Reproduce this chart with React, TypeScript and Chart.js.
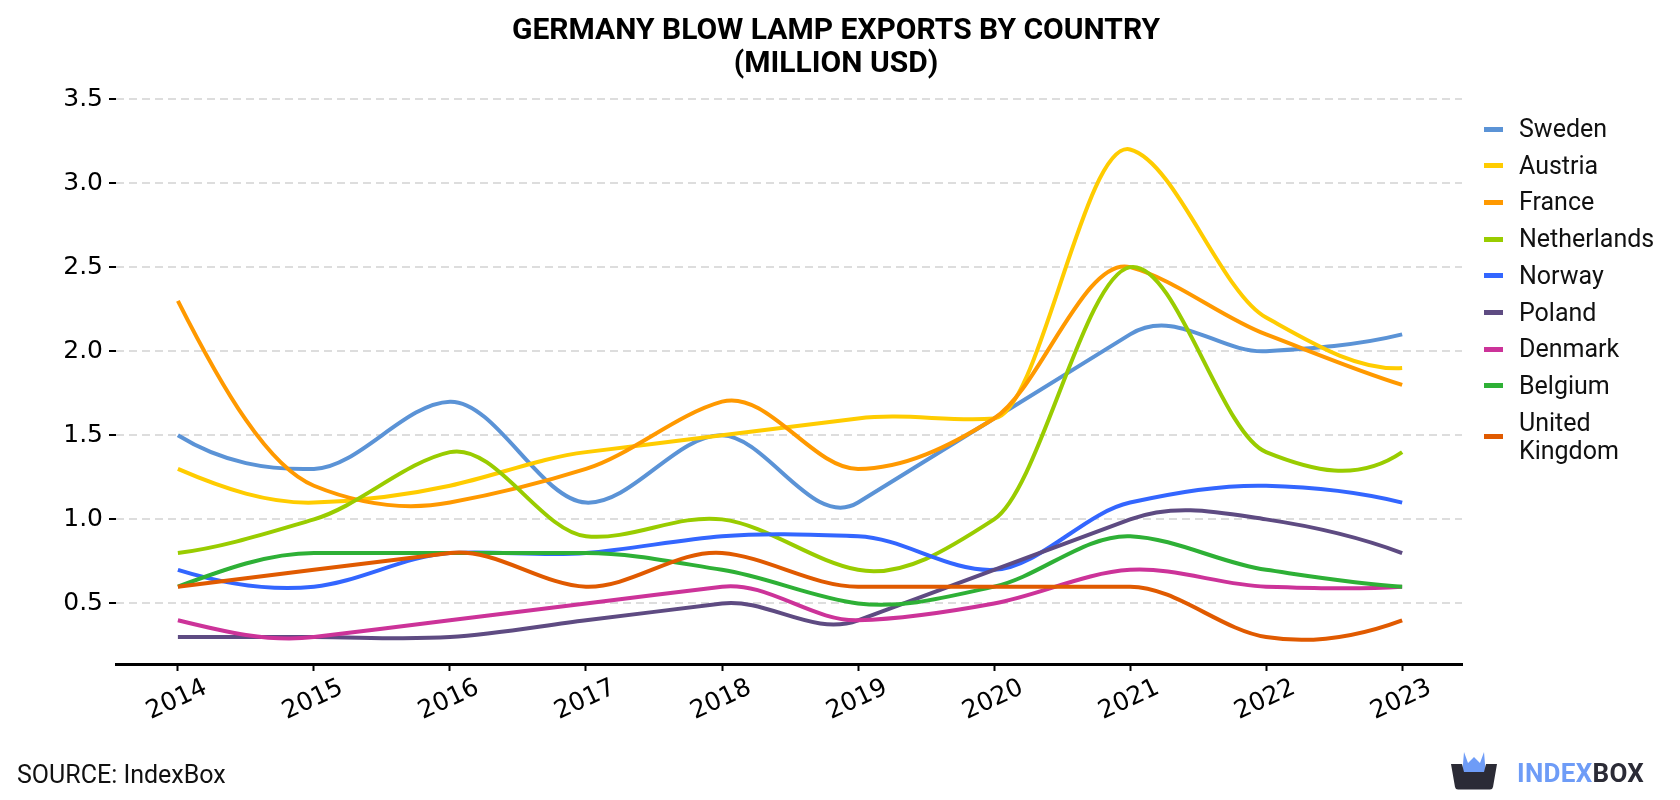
import React, { useEffect, useRef } from "react";
import { Chart, registerables } from "chart.js";

Chart.register(...registerables);

// Export values, million USD
const years = [2014, 2015, 2016, 2017, 2018, 2019, 2020, 2021, 2022, 2023];
const sweden = [1.5, 1.3, 1.7, 1.1, 1.5, 1.1, 1.6, 2.1, 2.0, 2.1];
const austria = [1.3, 1.1, 1.2, 1.4, 1.5, 1.6, 1.6, 3.2, 2.2, 1.9];
const france = [2.3, 1.2, 1.1, 1.3, 1.7, 1.3, 1.6, 2.5, 2.1, 1.8];
const netherlands = [0.8, 1.0, 1.4, 0.9, 1.0, 0.7, 1.0, 2.5, 1.4, 1.4];
const norway = [0.7, 0.6, 0.8, 0.8, 0.9, 0.9, 0.7, 1.1, 1.2, 1.1];
const poland = [0.3, 0.3, 0.3, 0.4, 0.5, 0.4, 0.7, 1.0, 1.0, 0.8];
const denmark = [0.4, 0.3, 0.4, 0.5, 0.6, 0.4, 0.5, 0.7, 0.6, 0.6];
const belgium = [0.6, 0.8, 0.8, 0.8, 0.7, 0.5, 0.6, 0.9, 0.7, 0.6];
const unitedKingdom = [0.6, 0.7, 0.8, 0.6, 0.8, 0.6, 0.6, 0.6, 0.3, 0.4];

const seriesNames = [
  "Sweden",
  "Austria",
  "France",
  "Netherlands",
  "Norway",
  "Poland",
  "Denmark",
  "Belgium",
  "United Kingdom",
];
const seriesColors = [
  "#5b93d6",
  "#ffcc00",
  "#ff9900",
  "#99cc00",
  "#3366ff",
  "#5e4b82",
  "#cc3399",
  "#2eb036",
  "#e05a00",
];
const legendLines = [
  ["Sweden"],
  ["Austria"],
  ["France"],
  ["Netherlands"],
  ["Norway"],
  ["Poland"],
  ["Denmark"],
  ["Belgium"],
  ["United", "Kingdom"],
];
const yTickValues = [0.5, 1.0, 1.5, 2.0, 2.5, 3.0, 3.5];

// Replaces Chart.js's default spline handles with Akima tangents, so each
// segment is the Akima cubic between its two data points.
const akimaCurves = {
  id: "akimaCurves",
  beforeDatasetDraw(chart: any, args: any) {
    const meta = args.meta;
    const line = meta.dataset;
    const pts = meta.data;
    const n = pts.length;
    if (!line || n < 3) return;
    line.updateControlPoints(chart.chartArea, "x");
    // secant slopes, padded with two extrapolated slopes at each end
    const s: number[] = [];
    for (let i = 0; i < n - 1; i++) {
      s.push((pts[i + 1].y - pts[i].y) / (pts[i + 1].x - pts[i].x));
    }
    const m: number[] = new Array(n + 3);
    for (let i = 0; i < n - 1; i++) m[i + 2] = s[i];
    m[1] = 2 * m[2] - m[3];
    m[0] = 2 * m[1] - m[2];
    m[n + 1] = 2 * m[n] - m[n - 1];
    m[n + 2] = 2 * m[n + 1] - m[n];
    const t: number[] = [];
    for (let i = 0; i < n; i++) {
      const w1 = Math.abs(m[i + 3] - m[i + 2]);
      const w2 = Math.abs(m[i + 1] - m[i]);
      t.push(
        w1 + w2 > 1e-9 ? (w1 * m[i + 1] + w2 * m[i + 2]) / (w1 + w2) : 0.5 * (m[i + 1] + m[i + 2])
      );
    }
    for (let i = 0; i < n; i++) {
      const p = pts[i];
      if (i > 0) {
        const h = (p.x - pts[i - 1].x) / 3;
        p.cp1x = p.x - h;
        p.cp1y = p.y - t[i] * h;
      }
      if (i < n - 1) {
        const h = (pts[i + 1].x - p.x) / 3;
        p.cp2x = p.x + h;
        p.cp2y = p.y + t[i] * h;
      }
    }
    line._path = undefined;
  },
};

// Year labels are drawn centred under each tick, tilted 25 degrees
const yearLabels = {
  id: "yearLabels",
  afterDraw(chart: any) {
    const { ctx, chartArea } = chart;
    const x = chart.scales.x;
    ctx.save();
    ctx.font = '25px "DejaVu Sans"';
    ctx.fillStyle = "#000";
    ctx.textAlign = "center";
    ctx.textBaseline = "middle";
    years.forEach((yr) => {
      const px = x.getPixelForValue(yr);
      ctx.save();
      ctx.translate(px - 1, chartArea.bottom + 36);
      ctx.rotate((-25 * Math.PI) / 180);
      ctx.fillText(String(yr), 0, 0);
      ctx.restore();
    });
    ctx.restore();
  },
};

export default function App() {
  const canvasRef = useRef<HTMLCanvasElement>(null);

  useEffect(() => {
    const canvas = canvasRef.current;
    if (!canvas) return;
    const series = [
      sweden,
      austria,
      france,
      netherlands,
      norway,
      poland,
      denmark,
      belgium,
      unitedKingdom,
    ];
    const chart = new Chart(canvas, {
      type: "line",
      data: {
        datasets: series.map((vals, i) => ({
          label: seriesNames[i],
          data: years.map((yr, j) => ({ x: yr, y: vals[j] })),
          borderColor: seriesColors[i],
          backgroundColor: seriesColors[i],
          borderWidth: 4,
          pointRadius: 0,
          pointHoverRadius: 0,
          tension: 0.4,
          fill: false,
          order: series.length - i,
        })),
      },
      options: {
        responsive: false,
        maintainAspectRatio: false,
        animation: false,
        devicePixelRatio: 1,
        events: [],
        layout: { padding: { top: 99, right: 218, bottom: 0, left: 0 } },
        plugins: {
          legend: { display: false },
          title: { display: false },
          tooltip: { enabled: false },
        },
        scales: {
          x: {
            type: "linear",
            min: 2013.545,
            max: 2023.44,
            afterFit: (s: any) => {
              s.height = 136;
            },
            ticks: { display: false, stepSize: 1, includeBounds: false },
            grid: {
              drawOnChartArea: false,
              drawTicks: true,
              tickLength: 7,
              tickColor: "#000",
              tickWidth: 2,
            },
            border: { display: true, color: "#000", width: 3 },
          },
          y: {
            type: "linear",
            min: 0.14,
            max: 3.5,
            afterFit: (s: any) => {
              s.width = 116;
            },
            afterBuildTicks: (s: any) => {
              s.ticks = yTickValues.map((v) => ({ value: v }));
            },
            ticks: {
              padding: 6,
              color: "#000",
              font: { family: '"DejaVu Sans"', size: 25 },
              callback: (v: any) => Number(v).toFixed(1),
            },
            grid: {
              color: "#dddddd",
              lineWidth: 2,
              tickColor: "#000",
              tickLength: 7,
              tickWidth: 2,
            },
            border: { display: false, dash: [8, 5] },
          },
        },
      },
      plugins: [akimaCurves, yearLabels],
    });
    return () => chart.destroy();
  }, []);

  const legendTop = 115;
  const rowGap = 36.7;

  return (
    <div
      style={{
        position: "fixed",
        left: 0,
        top: 0,
        width: 1680,
        height: 800,
        background: "#fff",
        fontFamily: "Roboto, 'Noto Sans', sans-serif",
        overflow: "hidden",
      }}
    >
      <canvas
        ref={canvasRef}
        width={1680}
        height={800}
        style={{ position: "absolute", left: 0, top: 0, display: "block" }}
      />
      <div
        style={{
          position: "absolute",
          left: 0,
          top: 12,
          width: 1672,
          textAlign: "center",
          fontWeight: 700,
          fontSize: 30,
          lineHeight: "33px",
          color: "#000",
        }}
      >
        <div>GERMANY BLOW LAMP EXPORTS BY COUNTRY</div>
        <div>(MILLION USD)</div>
      </div>
      {legendLines.map((lines, i) => {
        const top = legendTop + i * rowGap;
        const h = lines.length * 28;
        return (
          <div
            key={seriesNames[i]}
            style={{ position: "absolute", left: 1484, top, height: h, width: 196 }}
          >
            <div
              style={{
                position: "absolute",
                left: 0,
                top: h / 2 - 2.5,
                width: 19,
                height: 5,
                background: seriesColors[i],
              }}
            />
            <div
              style={{
                position: "absolute",
                left: 35,
                top: 0,
                fontSize: 25,
                lineHeight: "28px",
                color: "#111",
                whiteSpace: "nowrap",
              }}
            >
              {lines.map((t) => (
                <div key={t}>{t}</div>
              ))}
            </div>
          </div>
        );
      })}
      <div
        style={{
          position: "absolute",
          left: 17,
          top: 761,
          fontSize: 25,
          lineHeight: "28px",
          color: "#111",
        }}
      >
        SOURCE: IndexBox
      </div>
      <svg
        width={48}
        height={38}
        viewBox="0 0 48 38"
        style={{ position: "absolute", left: 1450, top: 752 }}
      >
        <path d="M14 0 L18 11 L24 5 L30 11 L34 0 L36 24 L12 24 Z" fill="#6e9cf7" />
        <path
          d="M1 12 L12 12 L14 20 L34 20 L36 12 L47 12 L43 35 Q42.5 37.5 40 37.5 L8 37.5 Q5.5 37.5 5 35 Z"
          fill="#2b2b36"
        />
      </svg>
      <div
        style={{
          position: "absolute",
          left: 1517,
          top: 757,
          fontSize: 26,
          fontWeight: 700,
          lineHeight: "32px",
          letterSpacing: 0.3,
        }}
      >
        <span style={{ color: "#6e9cf7" }}>INDEX</span>
        <span style={{ color: "#2b2b36" }}>BOX</span>
      </div>
    </div>
  );
}
